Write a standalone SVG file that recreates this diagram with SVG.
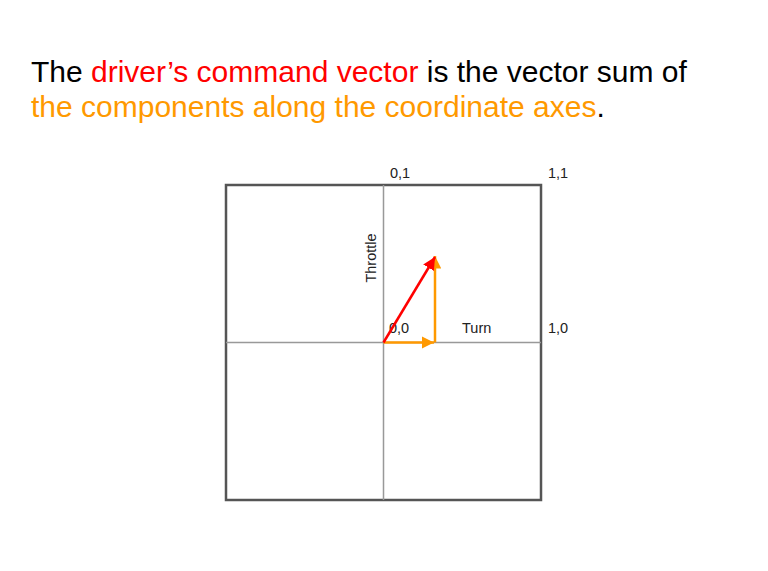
<svg xmlns="http://www.w3.org/2000/svg" width="768" height="571" viewBox="0 0 768 571">
<defs>
<style>
.title{font-family:"Liberation Sans",Arial,sans-serif;font-size:30px;fill:#000}
.lbl{font-family:"Liberation Sans",Arial,sans-serif;font-size:14.5px;fill:#222}
.axis{stroke:#999;stroke-width:1.5;fill:none}
.frame{stroke:#555;stroke-width:2.5;fill:none}
</style>
<marker id="ao" viewBox="0 0 10 10" refX="10" refY="5" markerWidth="5" markerHeight="5" markerUnits="strokeWidth" orient="auto"><path d="M0,0 L10,5 L0,10 z" fill="#ff9900"/></marker>
<marker id="ar" viewBox="0 0 10 10" refX="10" refY="5" markerWidth="5" markerHeight="5" markerUnits="strokeWidth" orient="auto"><path d="M0,0 L10,5 L0,10 z" fill="#ff0000"/></marker>
</defs>
<rect width="768" height="571" fill="#fff"/>
<g id="title">
<text class="title" x="31" y="81.5">The <tspan fill="#ff0000">driver’s command vector</tspan> is the vector sum of</text>
<text class="title" x="31" y="117">
<tspan fill="#ff9900">the components along the coordinate axes</tspan>.</text>
</g>
<g id="plane">
<rect class="frame" x="226" y="185" width="315" height="315"/>
<line class="axis" x1="383.5" y1="185" x2="383.5" y2="500"/>
<line class="axis" x1="226" y1="342.5" x2="541" y2="342.5"/>
</g>
<g id="labels">
<text class="lbl" x="390" y="178">0,1</text>
<text class="lbl" x="548" y="178">1,1</text>
<text class="lbl" x="389" y="333">0,0</text>
<text class="lbl" x="462" y="333">Turn</text>
<text class="lbl" x="548" y="333">1,0</text>
<text class="lbl" transform="translate(376,258) rotate(-90)" text-anchor="middle">Throttle</text>
</g>
<g id="connectors">
<line x1="383.5" y1="342.5" x2="434" y2="342.5" stroke="#ff9900" stroke-width="2.5" marker-end="url(#ao)"/>
<line x1="435" y1="342.5" x2="435" y2="256" stroke="#ff9900" stroke-width="2.5" marker-end="url(#ao)"/>
<line x1="383.5" y1="342.5" x2="435" y2="257" stroke="#ff0000" stroke-width="2.5" marker-end="url(#ar)"/>
</g>
</svg>
